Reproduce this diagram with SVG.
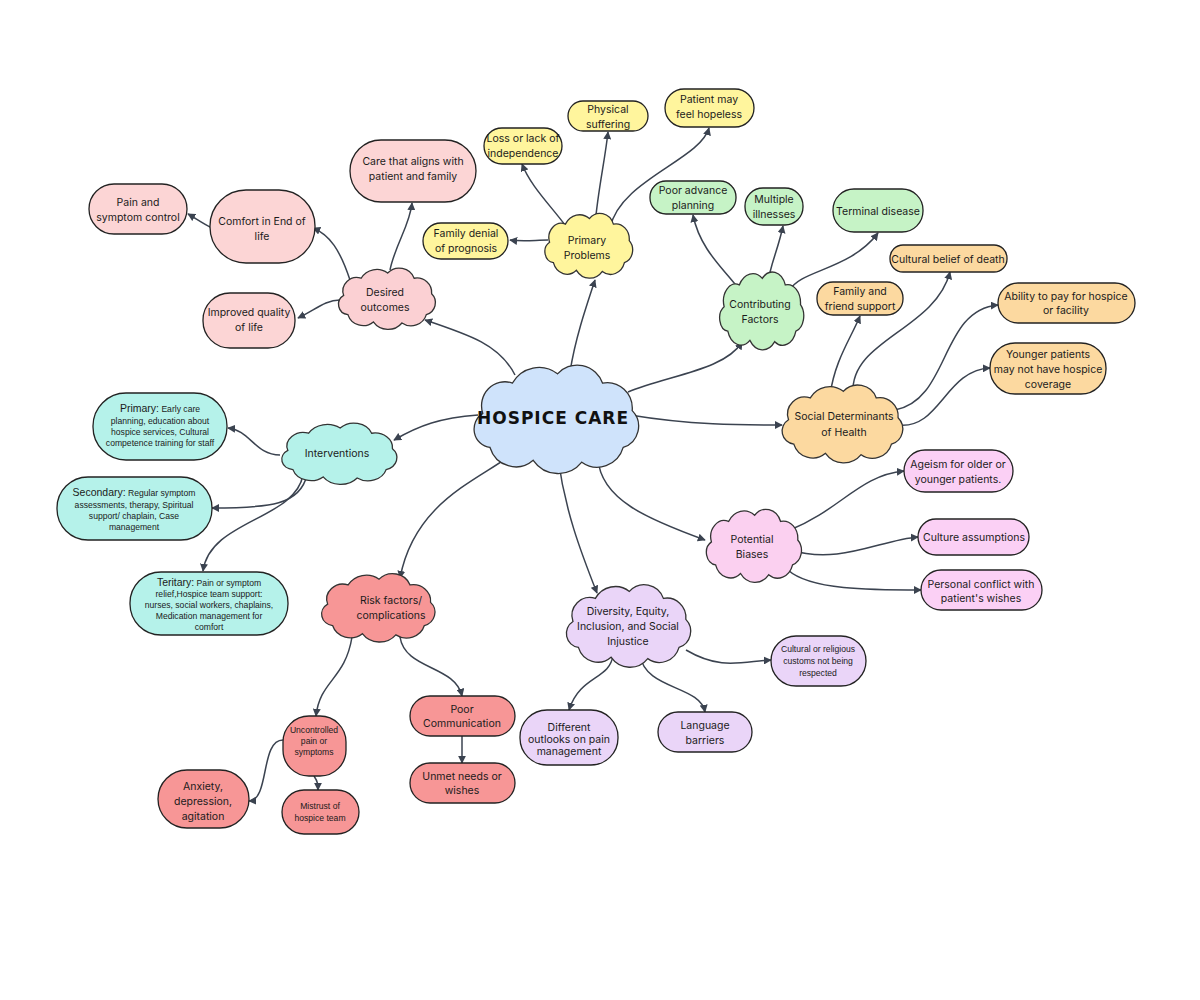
<svg xmlns="http://www.w3.org/2000/svg" xmlns:xlink="http://www.w3.org/1999/xlink" width="1200" height="1000" viewBox="0 0 1200 1000">
<style>
text{font-family:"Inter","Liberation Sans",sans-serif;font-size:10.5px;fill:#1b1b1b;text-anchor:middle}
.s{font-family:"Liberation Sans",sans-serif;font-size:8.6px}
.hub{font-family:"DejaVu Sans",sans-serif;font-weight:bold;font-size:17px;letter-spacing:1px;fill:#111}
.n{stroke:#222;stroke-width:1.3}
#edges path{fill:none;stroke:#3b4350;stroke-width:1.5;marker-end:url(#ah)}
</style>
<defs>
<marker id="ah" viewBox="0 0 10 10" refX="9" refY="5" markerWidth="8" markerHeight="8" markerUnits="userSpaceOnUse" orient="auto"><path d="M0,0 L10,5 L0,10 Z" fill="#3b4350"/></marker>
<path id="cloud" vector-effect="non-scaling-stroke" stroke="#333" stroke-width="1.3" d="M -78,-5 A 26 26 0 0 1 -45,-38 A 34 34 0 0 1 5,-48 A 30 30 0 0 1 55,-38 A 28 28 0 0 1 88,-8 A 24 24 0 0 1 78,32 A 30 30 0 0 1 32,48 A 34 34 0 0 1 -22,46 A 30 30 0 0 1 -70,32 A 20 20 0 0 1 -78,-5 Z"/>
</defs>
<rect width="1200" height="1000" fill="#fff"/>
<g id="edges">
<path d="M515,375 C500,345 470,335 425,320"/>
<path d="M570,372 C575,340 585,310 595,280"/>
<path d="M628,392 C670,375 725,370 742,342"/>
<path d="M630,415 C690,425 740,425 782,425"/>
<path d="M598,458 C600,500 650,520 705,540"/>
<path d="M558,458 C565,510 580,550 597,593"/>
<path d="M515,452 C480,480 415,500 400,578"/>
<path d="M478,415 C440,418 420,425 394,440"/>
<path d="M350,280 C340,250 330,235 313,228"/>
<path d="M390,270 C395,245 410,225 412,203"/>
<path d="M340,300 C325,300 315,310 298,318"/>
<path d="M212,228 C205,225 195,218 188,214"/>
<path d="M565,225 C550,205 530,185 522,164"/>
<path d="M595,225 C598,190 605,160 608,132"/>
<path d="M610,228 C620,180 700,160 709,128"/>
<path d="M548,240 C535,240 525,242 510,240"/>
<path d="M738,288 C725,270 700,250 693,215"/>
<path d="M768,283 C770,265 778,250 783,226"/>
<path d="M790,290 C800,270 850,270 878,233"/>
<path d="M830,395 C835,360 850,340 860,316"/>
<path d="M853,393 C850,340 935,330 950,272"/>
<path d="M895,410 C950,400 940,310 998,305"/>
<path d="M898,425 C940,430 945,370 990,368"/>
<path d="M790,530 C840,510 860,475 904,471"/>
<path d="M790,550 C840,565 880,540 918,537"/>
<path d="M788,570 C810,590 870,590 921,590"/>
<path d="M686,650 C720,670 740,662 771,660"/>
<path d="M640,655 C645,690 700,685 705,712"/>
<path d="M613,655 C610,680 580,675 569,710"/>
<path d="M280,455 C255,455 250,430 228,428"/>
<path d="M307,475 C300,505 270,508 212,508"/>
<path d="M303,475 C295,520 210,520 203,571"/>
<path d="M352,637 C345,680 320,680 316,716"/>
<path d="M400,637 C405,670 455,665 462,696"/>
<path d="M462,736 L462,763"/>
<path d="M314,776 C318,782 318,785 318,790"/>
<path d="M283,740 C260,740 270,800 249,801"/>
</g>
<g id="n-hub"><use href="#cloud" fill="#cfe3fb" transform="translate(553,418) scale(0.9,0.92)"/><text x="553" y="424" class="hub">HOSPICE CARE</text></g>
<g id="n-pp"><use href="#cloud" fill="#fff59d" transform="translate(587,245) scale(0.48,0.55)"/><text x="587" y="244">Primary</text><text x="587" y="259">Problems</text></g>
<g id="n-cf"><use href="#cloud" fill="#c6f3c6" transform="translate(760,310) scale(0.46,0.66)"/><text x="760" y="308">Contributing</text><text x="760" y="323">Factors</text></g>
<g id="n-sd"><use href="#cloud" fill="#fcd9a0" transform="translate(840,423) scale(0.66,0.66)"/><text x="844" y="420">Social Determinants</text><text x="844" y="436">of Health</text></g>
<g id="n-pb"><use href="#cloud" fill="#fbd0f0" transform="translate(752,545) scale(0.52,0.62)"/><text x="752" y="543">Potential</text><text x="752" y="558">Biases</text></g>
<g id="n-de"><use href="#cloud" fill="#ead5f8" transform="translate(626,625) scale(0.68,0.7)"/><text x="628" y="615">Diversity, Equity,</text><text x="628" y="630">Inclusion, and Social</text><text x="628" y="645">Injustice</text></g>
<g id="n-rf"><use href="#cloud" fill="#f79696" transform="translate(376,607) scale(0.62,0.58)"/><text x="391" y="604">Risk factors/</text><text x="391" y="619">complications</text></g>
<g id="n-iv"><use href="#cloud" fill="#b5f2ea" transform="translate(337,453) scale(0.63,0.52)"/><text x="337" y="457">Interventions</text></g>
<g id="n-do"><use href="#cloud" fill="#fbd0d3" transform="translate(385,298) scale(0.53,0.52)"/><text x="385" y="296">Desired</text><text x="385" y="311">outcomes</text></g>
<g fill="#fcd5d5">
<g id="n1"><rect class="n" x="350" y="140" width="126" height="62" rx="31"/><text x="413" y="165">Care that aligns with</text><text x="413" y="180">patient and family</text></g>
<g id="n2"><rect class="n" x="210" y="190" width="105" height="73" rx="36"/><text x="262" y="225">Comfort in End of</text><text x="262" y="240">life</text></g>
<g id="n3"><rect class="n" x="89" y="184" width="98" height="50" rx="25"/><text x="138" y="206">Pain and</text><text x="138" y="221">symptom control</text></g>
<g id="n4"><rect class="n" x="203" y="293" width="92" height="55" rx="27"/><text x="249" y="316">Improved quality</text><text x="249" y="331">of life</text></g>
</g>
<g fill="#fff59d">
<g id="n5"><rect class="n" x="484" y="128" width="78" height="36" rx="18"/><text x="523" y="142">Loss or lack of</text><text x="523" y="157">independence</text></g>
<g id="n6"><rect class="n" x="568" y="101" width="80" height="30" rx="15"/><text x="608" y="113">Physical</text><text x="608" y="128">suffering</text></g>
<g id="n7"><rect class="n" x="665" y="89" width="89" height="38" rx="19"/><text x="709" y="103">Patient may</text><text x="709" y="118">feel hopeless</text></g>
<g id="n8"><rect class="n" x="423" y="223" width="85" height="36" rx="18"/><text x="466" y="237">Family denial</text><text x="466" y="252">of prognosis</text></g>
</g>
<g fill="#c6f3c6">
<g id="n9"><rect class="n" x="650" y="181" width="86" height="33" rx="16"/><text x="693" y="194">Poor advance</text><text x="693" y="209">planning</text></g>
<g id="n10"><rect class="n" x="745" y="188" width="58" height="37" rx="18"/><text x="774" y="203">Multiple</text><text x="774" y="218">illnesses</text></g>
<g id="n11"><rect class="n" x="833" y="189" width="90" height="43" rx="21"/><text x="878" y="215">Terminal disease</text></g>
</g>
<g fill="#fcd9a0">
<g id="n12"><rect class="n" x="890" y="245" width="117" height="27" rx="13"/><text x="948" y="263">Cultural belief of death</text></g>
<g id="n13"><rect class="n" x="817" y="282" width="86" height="33" rx="16"/><text x="860" y="295">Family and</text><text x="860" y="310">friend support</text></g>
<g id="n14"><rect class="n" x="998" y="283" width="137" height="40" rx="20"/><text x="1066" y="300">Ability to pay for hospice</text><text x="1066" y="314">or facility</text></g>
<g id="n15"><rect class="n" x="990" y="343" width="116" height="51" rx="25"/><text x="1048" y="358">Younger patients</text><text x="1048" y="373">may not have hospice</text><text x="1048" y="388">coverage</text></g>
</g>
<g fill="#fbd0f5">
<g id="n16"><rect class="n" x="904" y="450" width="109" height="42" rx="21"/><text x="958" y="468">Ageism for older or</text><text x="958" y="483">younger patients.</text></g>
<g id="n17"><rect class="n" x="918" y="519" width="111" height="36" rx="18"/><text x="974" y="541">Culture assumptions</text></g>
<g id="n18"><rect class="n" x="921" y="570" width="121" height="40" rx="20"/><text x="981" y="588">Personal conflict with</text><text x="981" y="602">patient's wishes</text></g>
</g>
<g fill="#ead5f8">
<g id="n19"><rect class="n" x="771" y="636" width="95" height="50" rx="25"/><text x="818" y="652" class="s">Cultural or religious</text><text x="818" y="664" class="s">customs not being</text><text x="818" y="676" class="s">respected</text></g>
<g id="n20"><rect class="n" x="520" y="710" width="98" height="55" rx="27"/><text x="569" y="731">Different</text><text x="569" y="743">outlooks on pain</text><text x="569" y="755">management</text></g>
<g id="n21"><rect class="n" x="658" y="712" width="94" height="40" rx="20"/><text x="705" y="729">Language</text><text x="705" y="744">barriers</text></g>
</g>
<g fill="#b5f2ea">
<g id="n22"><rect class="n" x="93" y="393" width="134" height="67" rx="33"/><text x="160" y="412" class="s"><tspan font-size="10.5">Primary:</tspan> Early care</text><text x="160" y="423.5" class="s">planning, education about</text><text x="160" y="434.5" class="s">hospice services, Cultural</text><text x="160" y="445.5" class="s">competence training for staff</text></g>
<g id="n23"><rect class="n" x="57" y="477" width="155" height="63" rx="31"/><text x="134" y="496" class="s"><tspan font-size="10.5">Secondary:</tspan> Regular symptom</text><text x="134" y="507.5" class="s">assessments, therapy, Spiritual</text><text x="134" y="518.5" class="s">support/ chaplain, Case</text><text x="134" y="529.5" class="s">management</text></g>
<g id="n24"><rect class="n" x="130" y="572" width="158" height="63" rx="31"/><text x="209" y="586" class="s"><tspan font-size="10.5">Teritary:</tspan> Pain or symptom</text><text x="209" y="597" class="s">relief,Hospice team support:</text><text x="209" y="608" class="s">nurses, social workers, chaplains,</text><text x="209" y="619" class="s">Medication management for</text><text x="209" y="630" class="s">comfort</text></g>
</g>
<g fill="#f79696">
<g id="n25"><rect class="n" x="410" y="696" width="105" height="40" rx="20"/><text x="462" y="713">Poor</text><text x="462" y="727">Communication</text></g>
<g id="n26"><rect class="n" x="410" y="763" width="105" height="40" rx="20"/><text x="462" y="780">Unmet needs or</text><text x="462" y="794">wishes</text></g>
<g id="n27"><rect class="n" x="283" y="716" width="63" height="60" rx="26"/><text x="314" y="733" class="s">Uncontrolled</text><text x="314" y="744" class="s">pain or</text><text x="314" y="755" class="s">symptoms</text></g>
<g id="n28"><rect class="n" x="158" y="770" width="91" height="58" rx="29"/><text x="203" y="790">Anxiety,</text><text x="203" y="805">depression,</text><text x="203" y="820">agitation</text></g>
<g id="n29"><rect class="n" x="282" y="790" width="77" height="44" rx="22"/><text x="320" y="809" class="s">Mistrust of</text><text x="320" y="821" class="s">hospice team</text></g>
</g>
</svg>
